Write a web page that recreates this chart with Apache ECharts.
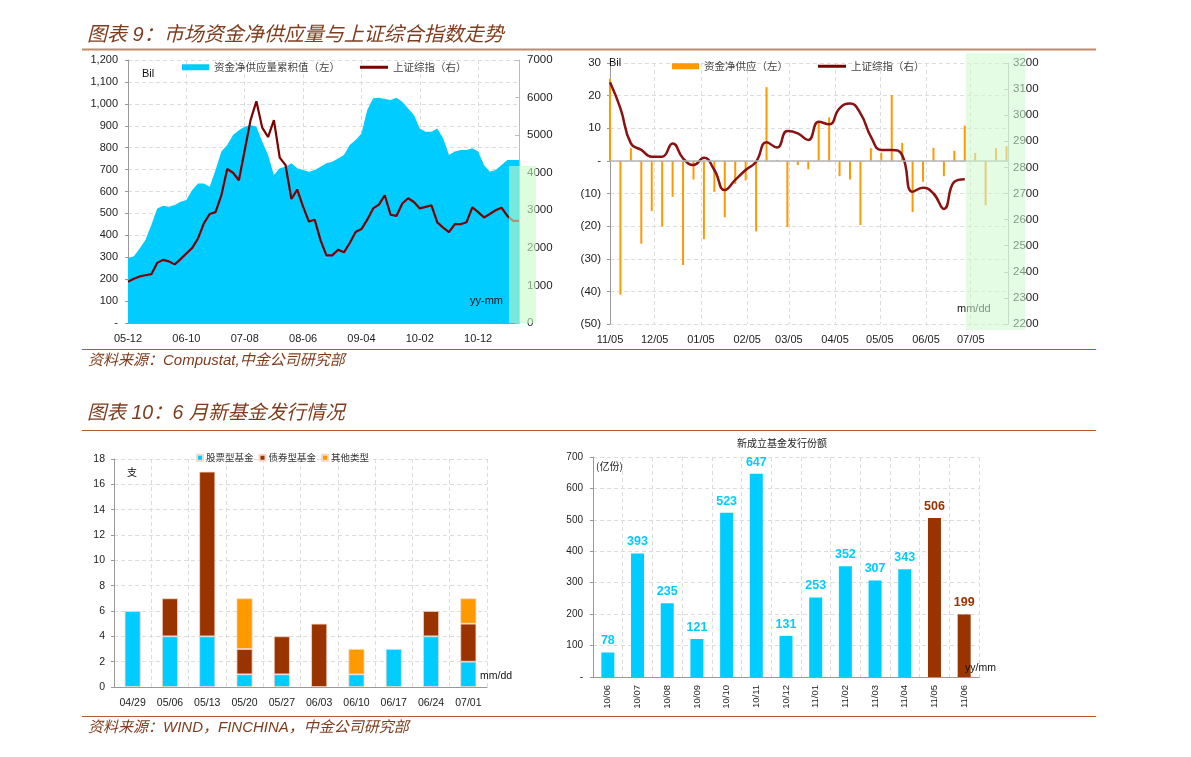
<!DOCTYPE html>
<html><head><meta charset="utf-8">
<script src="https://cdn.jsdelivr.net/npm/echarts@6/dist/echarts.min.js"></script>
<style>html,body{margin:0;padding:0;background:#fff;}#c{width:1191px;height:757px;}</style>
</head><body><div id="c"></div>
<script>
// ---------- Chart 9 left: cumulative net liquidity supply vs SSE composite (monthly) ----------
const tlMonths = ['05-12',
 '06-01','06-02','06-03','06-04','06-05','06-06','06-07','06-08','06-09','06-10','06-11','06-12',
 '07-01','07-02','07-03','07-04','07-05','07-06','07-07','07-08','07-09','07-10','07-11','07-12',
 '08-01','08-02','08-03','08-04','08-05','08-06','08-07','08-08','08-09','08-10','08-11','08-12',
 '09-01','09-02','09-03','09-04','09-05','09-06','09-07','09-08','09-09','09-10','09-11','09-12',
 '10-01','10-02','10-03','10-04','10-05','10-06','10-07','10-08','10-09','10-10','10-11','10-12',
 '11-01','11-02','11-03','11-04','11-05','11-06','11-07'];
const tlFlowCum = [295,305,340,380,447,523,535,530,538,553,
 561,607,637,637,622,698,782,812,858,880,
 896,903,896,827,767,675,706,713,729,706,
 698,690,698,713,729,736,751,767,812,835,
 865,972,1025,1028,1022,1017,1028,1010,979,949,
 888,873,873,888,843,767,782,789,789,797,
 782,721,690,698,721,744,744,744];
const tlIndex = [1100,1180,1240,1270,1300,1600,1680,1640,1560,1700,
 1850,2000,2250,2650,2900,2950,3400,4100,4000,3800,
 4600,5400,5900,5200,4950,5400,4400,4200,3300,3550,
 3100,2700,2750,2200,1800,1800,1950,1880,2130,2420,
 2500,2750,3050,3150,3400,2880,2850,3180,3320,3220,
 3050,3090,3130,2680,2540,2420,2630,2630,2680,3080,
 2950,2810,2900,3000,3070,2850,2720,2720];

// ---------- Chart 9 right: weekly net supply vs SSE composite ----------
const trStart = [2010, 10, 5];   // 2010-11-05 (month is 0-based)
const trDayCount = 268;
const trWeekStep = 7;
const trFlowWeekly = [25.2,-41.0,3.9,-25.4,-15.4,-20.1,-11.0,-31.9,-5.7,-24.0,
 -9.5,-17.3,-7.1,-6.0,-21.6,22.6,0.3,-20.3,-1.3,-2.6,
 12.0,13.3,-4.7,-5.7,-19.7,3.9,2.5,20.2,5.5,-15.7,
 -6.4,4.0,-4.7,3.1,10.8,2.4,-13.6,3.9,4.5];
const trIndexWeekly = [3126,3026,2892,2867,2841,2841,2892,2835,2809,2837,
 2790,2713,2752,2790,2822,2896,2876,2939,2930,2905,
 2975,2965,3026,3045,3007,2918,2867,2867,2847,2707,
 2722,2700,2641,2745,2755];

// ---------- Chart 10 left: new funds by week ----------
const blWeeks = ['04/29','05/06','05/13','05/20','05/27','06/03','06/10','06/17','06/24','07/01'];
const blStock = [6,4,4,1,1,0,1,3,4,2];
const blBond  = [0,3,13,2,3,5,0,0,2,3];
const blOther = [0,0,0,4,0,0,2,0,0,2];

// ---------- Chart 10 right: new fund issuance (100m units) ----------
const brMonths = ['10/06','10/07','10/08','10/09','10/10','10/11','10/12','11/01','11/02','11/03','11/04','11/05','11/06'];
const brShares = [78,393,235,121,523,647,131,253,352,307,343,506,199];
const brHighlighted = ['11/05','11/06'];

// ---------- build ----------
const LAT = '"Liberation Sans", Arial, sans-serif';
const CJK = '"Noto Sans CJK SC", sans-serif';
const BLUE = '#00CCFF', BROWN = '#993300', ORANGE = '#FF9900';
const TXT = '#7f3c1c';

const trDates = [];
for (let d = 0; d < trDayCount; d++) {
  const t = new Date(Date.UTC(trStart[0], trStart[1], trStart[2]) + d * 86400000);
  trDates.push(String(t.getUTCMonth() + 1).padStart(2, '0') + '/' + String(t.getUTCDate()).padStart(2, '0'));
}
const isMonthMark = (i, v) => /\/05$/.test(v);
const grey = {color:'#222', fontFamily: LAT};
const dashed = {show:true, lineStyle:{color:'#dcdcdc', type:[4,3], width:1}};
const nz = a => a.map(v => v === 0 ? '-' : v);
const plain = v => String(v);

const chart = echarts.init(document.getElementById('c'), null, {renderer:'canvas'});
const option = {
  animation: false,
  backgroundColor: '#fff',
  grid: [
    {left:128, top:60, width:391, height:263},
    {left:610, top:63, width:398, height:261},
    {left:114, top:459, width:373, height:228},
    {left:593, top:457, width:386, height:220}
  ],
  legend: [
    {data:[{name:'资金净供应量累积值（左）', icon:'rect'}], left:177, top:57, itemWidth:27, itemHeight:6, selectedMode:false,
     textStyle:{fontFamily:CJK, fontSize:10.5, color:'#444'}},
    {data:[{name:'上证综指（右）', icon:'rect'}], left:355, top:57, itemWidth:28, itemHeight:3, selectedMode:false,
     textStyle:{fontFamily:CJK, fontSize:10.5, color:'#444'}},
    {data:[{name:'资金净供应（左）', icon:'rect'}], left:667, top:56, itemWidth:27, itemHeight:6, selectedMode:false,
     textStyle:{fontFamily:CJK, fontSize:10.5, color:'#444'}},
    {data:[{name:'上证综指（右）', icon:'rect'}], left:813, top:56, itemWidth:28, itemHeight:3, selectedMode:false,
     textStyle:{fontFamily:CJK, fontSize:10.5, color:'#444'}},
    {data:['股票型基金','债券型基金','其他类型'], icon:'rect', left:191, top:448, itemWidth:6, itemHeight:6, itemGap:5, selectedMode:false,
     textStyle:{fontFamily:CJK, fontSize:9.5, color:'#333', padding:[0,0,0,-2]}}
  ],
  xAxis: [
    {gridIndex:0, type:'category', data:tlMonths, boundaryGap:false,
     axisLine:{lineStyle:{color:'#999'}}, axisTick:{show:false},
     axisLabel:Object.assign({interval:9, fontSize:11, margin:10}, grey),
     splitLine:Object.assign({interval:9}, dashed)},
    {gridIndex:1, type:'category', data:trDates, boundaryGap:false,
     axisLine:{show:false}, axisTick:{show:false},
     axisLabel:Object.assign({interval:isMonthMark, fontSize:11, margin:10}, grey),
     splitLine:Object.assign({interval:isMonthMark}, dashed)},
    {gridIndex:2, type:'category', data:blWeeks,
     axisLine:{lineStyle:{color:'#999'}}, axisTick:{show:false},
     axisLabel:Object.assign({fontSize:10.5, margin:11}, grey), splitLine:dashed},
    {gridIndex:3, type:'category', data:brMonths,
     axisLine:{lineStyle:{color:'#999'}}, axisTick:{show:false},
     axisLabel:Object.assign({fontSize:9.5, margin:8, rotate:90}, grey), splitLine:dashed}
  ],
  yAxis: [
    {gridIndex:0, min:0, max:1200, interval:100,
     axisLine:{show:true, lineStyle:{color:'#999'}}, axisTick:{show:true, length:3, lineStyle:{color:'#999'}},
     axisLabel:Object.assign({fontSize:11, margin:10, formatter:v => v === 0 ? '-' : v.toLocaleString('en-US')}, grey),
     splitLine:dashed},
    {gridIndex:0, position:'right', min:0, max:7000, interval:1000,
     axisLine:{show:true, lineStyle:{color:'#bbb'}}, axisTick:{show:true, inside:true, length:4, lineStyle:{color:'#bbb'}},
     axisLabel:Object.assign({fontSize:11.5, margin:8, formatter:plain}, grey), splitLine:{show:false}},
    {gridIndex:1, min:-50, max:30, interval:10,
     axisLine:{show:true, lineStyle:{color:'#999'}}, axisTick:{show:true, length:3, lineStyle:{color:'#999'}},
     axisLabel:Object.assign({fontSize:11.5, margin:9, formatter:v => v === 0 ? '-' : (v < 0 ? '(' + (-v) + ')' : String(v))}, grey),
     splitLine:dashed},
    {gridIndex:1, position:'right', min:2200, max:3200, interval:100,
     axisLine:{show:true, lineStyle:{color:'#bbb'}}, axisTick:{show:true, inside:true, length:4, lineStyle:{color:'#bbb'}},
     axisLabel:Object.assign({fontSize:11.5, margin:5, formatter:plain}, grey), splitLine:{show:false}},
    {gridIndex:2, min:0, max:18, interval:2,
     axisLine:{show:true, lineStyle:{color:'#999'}}, axisTick:{show:true, length:3, lineStyle:{color:'#999'}},
     axisLabel:Object.assign({fontSize:10.5, margin:9}, grey), splitLine:dashed},
    {gridIndex:3, min:0, max:700, interval:100,
     axisLine:{show:true, lineStyle:{color:'#999'}}, axisTick:{show:true, length:3, lineStyle:{color:'#999'}},
     axisLabel:Object.assign({fontSize:10, margin:10, formatter:v => v === 0 ? '-' : v}, grey),
     splitLine:dashed}
  ],
  series: [
    {name:'资金净供应量累积值（左）', type:'line', xAxisIndex:0, yAxisIndex:0, data:tlFlowCum,
     symbol:'none', lineStyle:{width:0}, itemStyle:{color:BLUE}, areaStyle:{color:BLUE, opacity:1}},
    {name:'上证综指（右）', type:'line', xAxisIndex:0, yAxisIndex:1, data:tlIndex,
     symbol:'none', itemStyle:{color:'#7B0000'}, lineStyle:{color:'#7B0000', width:2.2}},
    {name:'资金净供应（左）', type:'bar', xAxisIndex:1, yAxisIndex:2,
     data:trFlowWeekly.map((v, i) => [i * trWeekStep, v]), barWidth:2, itemStyle:{color:ORANGE},
     markLine:{silent:true, symbol:'none', label:{show:false}, lineStyle:{color:'#b5b5b5', type:'solid', width:1.5}, data:[{yAxis:0}]}},
    {name:'上证综指（右）', type:'line', xAxisIndex:1, yAxisIndex:3,
     data:trIndexWeekly.map((v, i) => [i * trWeekStep, v]), smooth:true,
     symbol:'none', itemStyle:{color:'#8B1212'}, lineStyle:{color:'#8B1212', width:2.5}},
    {name:'股票型基金', type:'bar', stack:'bl', xAxisIndex:2, yAxisIndex:4, data:nz(blStock), barWidth:16,
     itemStyle:{color:BLUE, borderColor:'#f4d8ca', borderWidth:0.8}},
    {name:'债券型基金', type:'bar', stack:'bl', xAxisIndex:2, yAxisIndex:4, data:nz(blBond), barWidth:16,
     itemStyle:{color:BROWN, borderColor:'#f4d8ca', borderWidth:0.8}},
    {name:'其他类型', type:'bar', stack:'bl', xAxisIndex:2, yAxisIndex:4, data:nz(blOther), barWidth:16,
     itemStyle:{color:ORANGE, borderColor:'#f4d8ca', borderWidth:0.8}},
    {name:'新成立基金发行份额', type:'bar', xAxisIndex:3, yAxisIndex:5, barWidth:13,
     data:brShares.map((v, i) => {
       const c = brHighlighted.includes(brMonths[i]) ? BROWN : BLUE;
       return {value:v, itemStyle:{color:c}, label:{color:c}};
     }),
     label:{show:true, position:'top', distance:5, fontFamily:LAT, fontWeight:'bold', fontSize:12.5}}
  ],
  graphic: [
    // section titles, rules and sources
    {type:'text', x:87, y:35, z:50, style:{text:'图表 9：市场资金净供应量与上证综合指数走势', font:'italic 20px "Liberation Sans", "Noto Sans CJK SC"', fill:TXT, textVerticalAlign:'middle'}},
    {type:'line', z:50, shape:{x1:82, y1:49.5, x2:1096, y2:49.5}, style:{stroke:'#c48a68', lineWidth:2}},
    {type:'line', z:50, shape:{x1:82, y1:349.5, x2:1096, y2:349.5}, style:{stroke:'#b85a30', lineWidth:1.2}},
    {type:'text', x:88, y:361, z:50, style:{text:'资料来源：Compustat,中金公司研究部', font:'italic 15px "Liberation Sans", "Noto Sans CJK SC"', fill:TXT, textVerticalAlign:'middle'}},
    {type:'text', x:87, y:414, z:50, style:{text:'图表 10：6 月新基金发行情况', font:'italic 19.5px "Liberation Sans", "Noto Sans CJK SC"', fill:TXT, textVerticalAlign:'middle'}},
    {type:'line', z:50, shape:{x1:82, y1:430.5, x2:1096, y2:430.5}, style:{stroke:'#b85a30', lineWidth:1.2}},
    {type:'line', z:50, shape:{x1:82, y1:716.5, x2:1096, y2:716.5}, style:{stroke:'#b85a30', lineWidth:1.2}},
    {type:'text', x:88, y:728, z:50, style:{text:'资料来源：WIND，FINCHINA，中金公司研究部', font:'italic 15px "Liberation Sans", "Noto Sans CJK SC"', fill:TXT, textVerticalAlign:'middle'}},
    // unit notes
    {type:'text', x:142, y:74, z:50, style:{text:'Bil', font:'11px "Liberation Sans"', fill:'#111', textVerticalAlign:'middle'}},
    {type:'text', x:470, y:301, z:50, style:{text:'yy-mm', font:'11px "Liberation Sans"', fill:'#111', textVerticalAlign:'middle'}},
    {type:'text', x:609, y:63, z:50, style:{text:'Bil', font:'11px "Liberation Sans"', fill:'#111', textVerticalAlign:'middle'}},
    {type:'text', x:957, y:309, z:50, style:{text:'mm/dd', font:'11px "Liberation Sans"', fill:'#111', textVerticalAlign:'middle'}},
    {type:'text', x:127, y:472, z:50, style:{text:'支', font:'10px "Noto Sans CJK SC"', fill:'#111', textVerticalAlign:'middle'}},
    {type:'text', x:480, y:676, z:50, style:{text:'mm/dd', font:'10.5px "Liberation Sans"', fill:'#111', textVerticalAlign:'middle'}},
    {type:'text', x:782, y:443, z:50, style:{text:'新成立基金发行份额', font:'10px "Noto Sans CJK SC"', fill:'#222', textAlign:'center', textVerticalAlign:'middle'}},
    {type:'text', x:596, y:466, z:50, style:{text:'(亿份)', font:'10px "Noto Sans CJK SC"', fill:'#222', textVerticalAlign:'middle'}},
    {type:'text', x:965, y:668, z:50, style:{text:'yy/mm', font:'10.5px "Liberation Sans"', fill:'#111', textVerticalAlign:'middle'}},
    // forecast bands
    {type:'rect', z:100, shape:{x:509, y:166, width:27, height:157}, style:{fill:'rgba(200,250,200,0.6)'}},
    {type:'rect', z:100, shape:{x:966, y:53, width:59, height:277}, style:{fill:'rgba(205,250,205,0.55)'}}
  ]
};
chart.setOption(option);
</script>
</body></html>
